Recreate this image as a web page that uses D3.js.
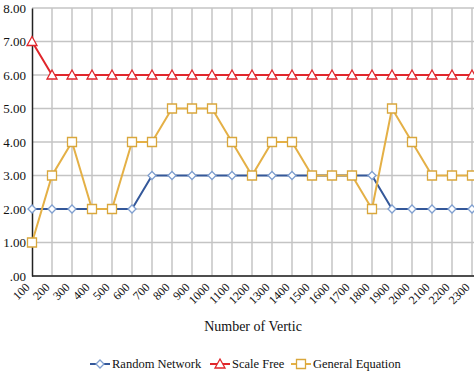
<!DOCTYPE html>
<html>
<head>
<meta charset="utf-8">
<script src="https://cdn.jsdelivr.net/npm/d3@7"></script>
<style>
  body { margin: 0; background: #fff; }
</style>
</head>
<body>
<div id="chart-area"></div>
<script>
const vertices = [100, 200, 300, 400, 500, 600, 700, 800, 900, 1000, 1100, 1200,
  1300, 1400, 1500, 1600, 1700, 1800, 1900, 2000, 2100, 2200, 2300]
const randomNetwork = [2, 2, 2, 2, 2, 2, 3, 3, 3, 3, 3, 3, 3, 3, 3, 3, 3, 3, 2, 2, 2, 2, 2]
const scaleFree = [7, 6, 6, 6, 6, 6, 6, 6, 6, 6, 6, 6, 6, 6, 6, 6, 6, 6, 6, 6, 6, 6, 6]
const generalEquation = [1, 3, 4, 2, 2, 4, 4, 5, 5, 5, 4, 3, 4, 4, 3, 3, 3, 2, 5, 4, 3, 3, 3]
const yTicks = [0, 1, 2, 3, 4, 5, 6, 7, 8]

const series = [
  { name: "Random Network", values: randomNetwork, color: "#34589a", marker: "diamond", markStroke: "#7f9fd0" },
  { name: "Scale Free", values: scaleFree, color: "#e0262b", marker: "triangle", markStroke: "#e0262b" },
  { name: "General Equation", values: generalEquation, color: "#e4b046", marker: "square", markStroke: "#d9a73c" }
]

const FONT = "'Liberation Serif', 'Times New Roman', 'DejaVu Serif', serif"
const W = 474, H = 374
const svg = d3.select("#chart-area").append("svg")
  .attr("width", W).attr("height", H)
  .attr("font-family", FONT)

const x = d3.scalePoint().domain(vertices).range([32, 472])
const y = d3.scaleLinear().domain([0, 8]).range([276, 8])

// grid
svg.append("g").selectAll("line").data(yTicks).enter().append("line")
  .attr("x1", 32).attr("x2", 474)
  .attr("y1", d => y(d)).attr("y2", d => y(d))
  .attr("stroke", "#c4c4c4").attr("stroke-width", 1.5)
svg.append("g").selectAll("line").data(vertices.slice(1)).enter().append("line")
  .attr("x1", d => x(d)).attr("x2", d => x(d))
  .attr("y1", y(8)).attr("y2", y(0))
  .attr("stroke", "#c4c4c4").attr("stroke-width", 1.5)

// axes
const yAxis = svg.append("g")
  .attr("transform", "translate(32,0)")
  .call(d3.axisLeft(y).tickValues(yTicks).tickSize(0).tickPadding(6)
    .tickFormat(d => d === 0 ? ".00" : d.toFixed(2)))
  .attr("font-family", FONT)
yAxis.select(".domain").attr("stroke", "#222").attr("stroke-width", 1.5)
yAxis.selectAll("text").attr("font-size", 13).attr("fill", "#111")

const xAxis = svg.append("g")
  .attr("transform", `translate(0,${y(0)})`)
  .call(d3.axisBottom(x).tickSize(0).tickPadding(0))
  .attr("font-family", FONT)
xAxis.select(".domain").attr("stroke", "#222").attr("stroke-width", 1.5)
  .attr("d", "M32,0H474")
xAxis.selectAll("text")
  .attr("font-size", 12)
  .attr("fill", "#111")
  .attr("text-anchor", "end")
  .attr("dy", "0.6em")
  .attr("transform", "translate(-7,7) rotate(-45)")

svg.append("text")
  .attr("x", 253).attr("y", 331)
  .attr("text-anchor", "middle")
  .attr("font-size", 14)
  .attr("fill", "#111")
  .text("Number of Vertic")

// lines
const line = d3.line().x((d, i) => x(vertices[i])).y(d => y(d))
svg.append("g").selectAll("path").data(series).enter().append("path")
  .attr("fill", "none")
  .attr("stroke", d => d.color)
  .attr("stroke-width", 2)
  .attr("d", d => line(d.values))

function markerPath(type, s) {
  if (type === "diamond") return `M0,${-s}L${s},0L0,${s}L${-s},0Z`
  if (type === "triangle") return `M0,${-s}L${s},${s * 0.8}L${-s},${s * 0.8}Z`
  return `M${-s},${-s}H${s}V${s}H${-s}Z`
}
const sizes = { diamond: 4, triangle: 5, square: 4.5 }

series.forEach(s => {
  svg.append("g").selectAll("path").data(s.values).enter().append("path")
    .attr("transform", (d, i) => `translate(${x(vertices[i])},${y(d)})`)
    .attr("d", markerPath(s.marker, sizes[s.marker]))
    .attr("fill", "#fff")
    .attr("stroke", s.markStroke)
    .attr("stroke-width", 1.3)
})

// legend
const legendX = [90, 210, 291]
const legend = svg.append("g").selectAll("g").data(series).enter().append("g")
  .attr("transform", (d, i) => `translate(${legendX[i]},364)`)
legend.append("line")
  .attr("x1", 0).attr("x2", 20)
  .attr("stroke", d => d.color).attr("stroke-width", 2)
legend.append("path")
  .attr("transform", "translate(10,0)")
  .attr("d", d => markerPath(d.marker, sizes[d.marker]))
  .attr("fill", "#fff")
  .attr("stroke", d => d.markStroke)
  .attr("stroke-width", 1.3)
legend.append("text")
  .attr("x", 22).attr("y", 4)
  .attr("font-size", 12.5)
  .attr("fill", "#111")
  .text(d => d.name)
</script>
</body>
</html>
